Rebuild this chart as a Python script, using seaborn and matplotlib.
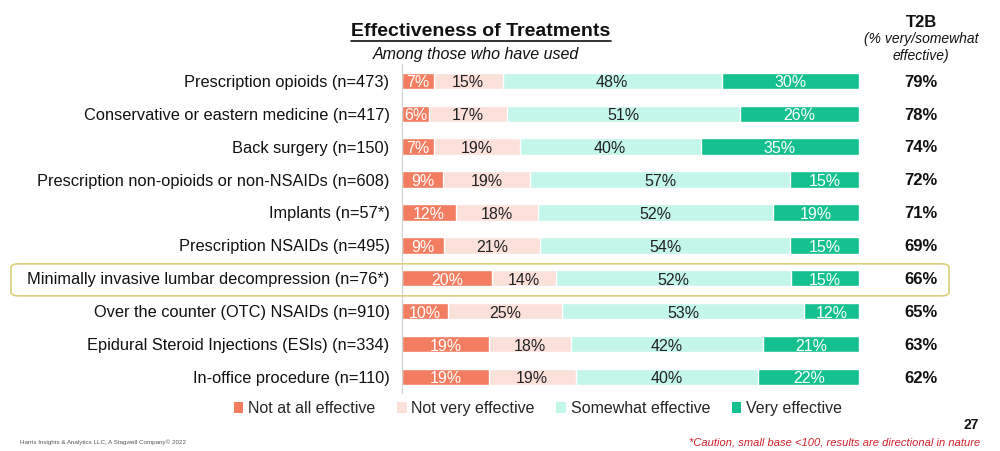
import numpy as np
import matplotlib
matplotlib.use('Agg')
import matplotlib.pyplot as plt
import seaborn as sb
import pandas as pd
from matplotlib.patches import FancyBboxPatch, Patch

# date
tratamente = ['Prescription opioids (n=473)',
              'Conservative or eastern medicine (n=417)',
              'Back surgery (n=150)',
              'Prescription non-opioids or non-NSAIDs (n=608)',
              'Implants (n=57*)',
              'Prescription NSAIDs (n=495)',
              'Minimally invasive lumbar decompression (n=76*)',
              'Over the counter (OTC) NSAIDs (n=910)',
              'Epidural Steroid Injections (ESIs) (n=334)',
              'In-office procedure (n=110)']
deloc = [7, 6, 7, 9, 12, 9, 20, 10, 19, 19]
nuFoarte = [15, 17, 19, 19, 18, 21, 14, 25, 18, 19]
oarecum = [48, 51, 40, 57, 52, 54, 52, 53, 42, 40]
foarte = [30, 26, 35, 15, 19, 15, 15, 12, 21, 22]
t2b = [79, 78, 74, 72, 71, 69, 66, 65, 63, 62]
categorii = ['Not at all effective', 'Not very effective',
             'Somewhat effective', 'Very effective']
culori = ['#F27D61', '#FCE1DB', '#C4F6E9', '#14C08F']
culoriText = ['white', '#222222', '#222222', 'white']

sb.set_style('white')
plt.rcParams['font.family'] = ['Liberation Sans', 'DejaVu Sans']

df = pd.DataFrame({'tratament': tratamente, categorii[0]: deloc,
                   categorii[1]: nuFoarte, categorii[2]: oarecum,
                   categorii[3]: foarte})
# procentele rotunjite nu dau mereu 100, se normalizeaza lungimea barei
total = df[categorii].sum(axis=1)
lat = df[categorii].div(total, axis=0) * 100
cum = lat.cumsum(axis=1)

fig = plt.figure(figsize=(10, 4.51), dpi=100)
ax = fig.add_axes([0.402, 0.1277, 0.457, 0.7295])

# bare stivuite: se deseneaza cumulativ, de la cea mai lunga la cea mai scurta
for k in range(len(categorii) - 1, -1, -1):
    sb.barplot(x=cum[categorii[k]], y=df['tratament'], color=culori[k],
               orient='h', width=0.5, saturation=1, ax=ax)

for i in range(len(tratamente)):
    start = 0
    for k, c in enumerate(categorii):
        w = lat[c].iloc[i]
        ax.text(start + w / 2, i + 0.06, str(df[c].iloc[i]) + '%',
                ha='center', va='center', fontsize=11.5, color=culoriText[k])
        start += w
    ax.text(1.135, i + 0.04, str(t2b[i]) + '%',
            transform=ax.get_yaxis_transform(),
            ha='center', va='center', fontsize=12, fontweight='bold',
            color='#111111')

ax.set_xlim(0, 100)
ax.set_ylim(9.5, -0.5)
ax.set_xlabel('')
ax.set_ylabel('')
ax.set_xticks([])
ax.tick_params(axis='y', length=0, pad=9, labelsize=11.8, labelcolor='#111111')
for s in ['top', 'right', 'bottom']:
    ax.spines[s].set_visible(False)
ax.spines['left'].set_color('#D0D0D0')
ax.spines['left'].set_linewidth(0.8)

# chenar pentru randul evidentiat
chenar = FancyBboxPatch((0.011, 0.344), 0.938, 0.071,
                        boxstyle='round,pad=0,rounding_size=0.008',
                        transform=fig.transFigure, fill=False,
                        edgecolor='#D9D27A', linewidth=1.2)
fig.patches.append(chenar)

fig.text(0.481, 0.930, 'Effectiveness of Treatments', ha='center',
         va='center', fontsize=14, fontweight='bold', color='#111111')
fig.add_artist(plt.Line2D([0.351, 0.611], [0.909, 0.909], color='#111111',
                          linewidth=1.2, transform=fig.transFigure))
fig.text(0.476, 0.880, 'Among those who have used', ha='center',
         va='center', fontsize=11.5, style='italic', color='#111111')

fig.text(0.921, 0.950, 'T2B', ha='center', va='center', fontsize=12,
         fontweight='bold', color='#111111')
fig.text(0.921, 0.895, '(% very/somewhat\neffective)', ha='center',
         va='center', fontsize=10, style='italic', color='#111111',
         linespacing=1.3)

handles = [Patch(facecolor=culori[k], edgecolor='none', label=categorii[k])
           for k in range(len(categorii))]
fig.legend(handles=handles, loc='center', bbox_to_anchor=(0.538, 0.094),
           ncol=4, frameon=False, fontsize=11.5, handlelength=0.6,
           handleheight=0.6, handletextpad=0.3, columnspacing=1.35)

fig.text(0.979, 0.058, '27', ha='right', va='center', fontsize=10,
         fontweight='bold', color='#111111')
fig.text(0.980, 0.018, '*Caution, small base <100, results are directional in nature',
         ha='right', va='center', fontsize=8, style='italic', color='#D0202A')
fig.text(0.020, 0.020, 'Harris Insights & Analytics LLC, A Stagwell Company\u00a9 2022',
         ha='left', va='center', fontsize=4.5, color='#555555')

fig.savefig('out.png', dpi=100, facecolor='white')
